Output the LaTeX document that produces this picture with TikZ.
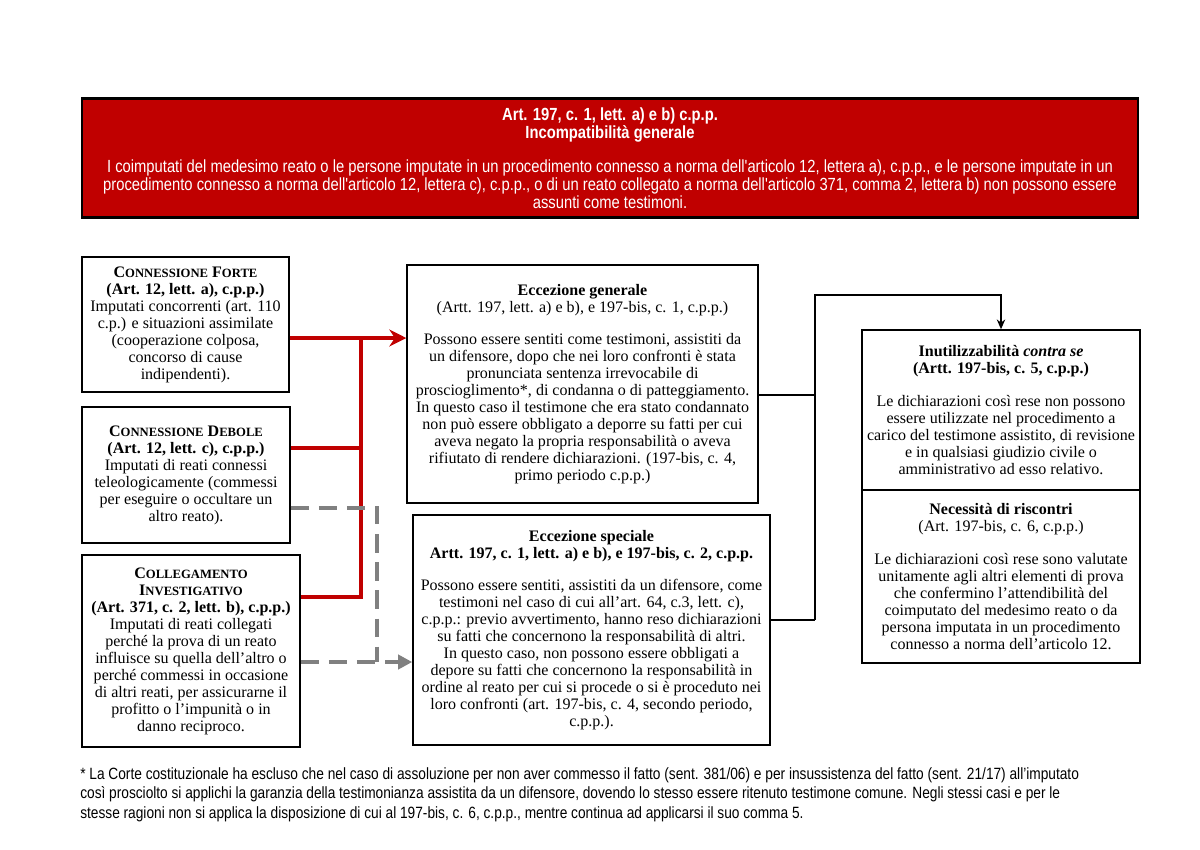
\documentclass[tikz,border=0pt]{standalone}
\usepackage{fontspec}
\setmainfont{Liberation Serif}
\newfontfamily\condsans[FakeStretch=0.84]{Liberation Sans}
\usetikzlibrary{arrows.meta}
\definecolor{boxred}{RGB}{192,0,0}
\definecolor{linkgray}{RGB}{128,128,128}
\newcommand{\smcap}[2]{#1{\fontsize{9}{10}\selectfont #2}}

\begin{document}
\begin{tikzpicture}[x=0.025cm,y=-0.025cm,
  box/.style={draw=black,line width=1pt,fill=white,align=center,inner sep=2pt,font=\fontsize{11.4}{12.1}\selectfont},
  redlink/.style={draw=boxred,line width=2.8pt},
  graylink/.style={draw=linkgray,line width=3pt,dash pattern=on 13pt off 7pt},
  blacklink/.style={draw=black,line width=1pt}]
\useasboundingbox (0,0) rectangle (1200,849);
% ---- general rule ----
\node[box,fill=boxred,text=white,line width=1.5pt,minimum width=26.4cm,minimum height=2.975cm,
  font=\condsans\fontsize{12.5}{12.6}\selectfont] (incomp) at (610,158)
  {\textbf{Art. 197, c. 1, lett. a) e b) c.p.p.}\\
   \textbf{Incompatibilità generale}\\[12pt]
   I coimputati del medesimo reato o le persone imputate in un procedimento connesso a norma dell'articolo 12, lettera a), c.p.p., e le persone imputate in un\\
   procedimento connesso a norma dell'articolo 12, lettera c), c.p.p., o di un reato collegato a norma dell'articolo 371, comma 2, lettera b) non possono essere\\
   assunti come testimoni.};
% ---- left column ----
\node[box,minimum width=5.175cm,minimum height=3.375cm] (forte) at (185.5,324.5)
  {\textbf{\smcap{C}{ONNESSIONE} \smcap{F}{ORTE}}\\
   \textbf{(Art. 12, lett. a), c.p.p.)}\\
   Imputati concorrenti (art. 110\\
   c.p.) e situazioni assimilate\\
   (cooperazione colposa,\\
   concorso di cause\\
   indipendenti).};
\node[box,minimum width=5.2cm,minimum height=3.4cm] (debole) at (186,475)
  {\textbf{\smcap{C}{ONNESSIONE} \smcap{D}{EBOLE}}\\
   \textbf{(Art. 12, lett. c), c.p.p.)}\\
   Imputati di reati connessi\\
   teleologicamente (commessi\\
   per eseguire o occultare un\\
   altro reato).};
\node[box,minimum width=5.45cm,minimum height=4.8cm] (collegamento) at (191,651)
  {\textbf{\smcap{C}{OLLEGAMENTO}}\\
   \textbf{\smcap{I}{NVESTIGATIVO}}\\
   \textbf{(Art. 371, c. 2, lett. b), c.p.p.)}\\
   Imputati di reati collegati\\
   perché la prova di un reato\\
   influisce su quella dell’altro o\\
   perché commessi in occasione\\
   di altri reati, per assicurarne il\\
   profitto o l’impunità o in\\
   danno reciproco.};
% ---- exceptions ----
\node[box,minimum width=8.775cm,minimum height=5.95cm] (generale) at (582.5,384)
  {\textbf{Eccezione generale}\\
   (Artt. 197, lett. a) e b), e 197-bis, c. 1, c.p.p.)\\[11pt]
   Possono essere sentiti come testimoni, assistiti da\\
   un difensore, dopo che nei loro confronti è stata\\
   pronunciata sentenza irrevocabile di\\
   proscioglimento*, di condanna o di patteggiamento.\\
   In questo caso il testimone che era stato condannato\\
   non può essere obbligato a deporre su fatti per cui\\
   aveva negato la propria responsabilità o aveva\\
   rifiutato di rendere dichiarazioni. (197-bis, c. 4,\\
   primo periodo c.p.p.)};
\node[box,minimum width=8.925cm,minimum height=5.75cm] (speciale) at (591.5,630)
  {\textbf{Eccezione speciale}\\
   \textbf{Artt. 197, c. 1, lett. a) e b), e 197-bis, c. 2, c.p.p.}\\[11pt]
   Possono essere sentiti, assistiti da un difensore, come\\
   testimoni nel caso di cui all’art. 64, c.3, lett. c),\\
   c.p.p.: previo avvertimento, hanno reso dichiarazioni\\
   su fatti che concernono la responsabilità di altri.\\
   In questo caso, non possono essere obbligati a\\
   depore su fatti che concernono la responsabilità in\\
   ordine al reato per cui si procede o si è proceduto nei\\
   loro confronti (art. 197-bis, c. 4, secondo periodo,\\
   c.p.p.).};
% ---- consequences ----
\node[box,minimum width=6.95cm,minimum height=4cm] (inutil) at (1001,410)
  {\textbf{Inutilizzabilità \textit{contra se}}\\
   \textbf{(Artt. 197-bis, c. 5, c.p.p.)}\\[11pt]
   Le dichiarazioni così rese non possono\\
   essere utilizzate nel procedimento a\\
   carico del testimone assistito, di revisione\\
   e in qualsiasi giudizio civile o\\
   amministrativo ad esso relativo.};
\node[box,minimum width=6.95cm,minimum height=4.325cm] (riscontri) at (1001,576.5)
  {\textbf{Necessità di riscontri}\\
   (Art. 197-bis, c. 6, c.p.p.)\\[11pt]
   Le dichiarazioni così rese sono valutate\\
   unitamente agli altri elementi di prova\\
   che confermino l'attendibilità del\\
   coimputato del medesimo reato o da\\
   persona imputata in un procedimento\\
   connesso a norma dell'articolo 12.};
% ---- footnote ----
\node[anchor=north west,align=left,inner sep=0pt,font=\condsans\fontsize{11.6}{14}\selectfont] (nota) at (80,767)
  {* La Corte costituzionale ha escluso che nel caso di assoluzione per non aver commesso il fatto (sent. 381/06) e per insussistenza del fatto (sent. 21/17) all’imputato\\
   così prosciolto si applichi la garanzia della testimonianza assistita da un difensore, dovendo lo stesso essere ritenuto testimone comune. Negli stessi casi e per le\\
   stesse ragioni non si applica la disposizione di cui al 197-bis, c. 6, c.p.p., mentre continua ad applicarsi il suo comma 5.};
% ---- connectors ----
\coordinate (redtop) at (361,338);
\coordinate (redmid) at (361,448);
\coordinate (redbot) at (361,597);
\draw[redlink,-{Stealth[length=12pt,width=12pt]}] (forte.east |- redtop) -- (generale.west |- redtop);
\draw[redlink] (redtop) -- (redbot) -- (collegamento.east |- redbot);
\draw[redlink] (debole.east |- redmid) -- (redmid);
\coordinate (graycorner) at (377,508);
\coordinate (grayjoin) at (377,662);
\draw[graylink] (debole.east |- graycorner) -- (graycorner) -- (grayjoin);
\draw[graylink,-{Triangle[length=10pt,width=10pt]}] (collegamento.east |- grayjoin) -- (speciale.west |- grayjoin);
\coordinate (genout) at (815,395);
\coordinate (speout) at (815,620);
\coordinate (blacktop) at (815,295);
\draw[blacklink] (generale.east |- genout) -- (genout);
\draw[blacklink] (speciale.east |- speout) -- (speout);
\draw[blacklink,-{Stealth[length=7pt,width=6pt]}] (speout) -- (blacktop) -| (inutil.north);
\end{tikzpicture}
\end{document}
